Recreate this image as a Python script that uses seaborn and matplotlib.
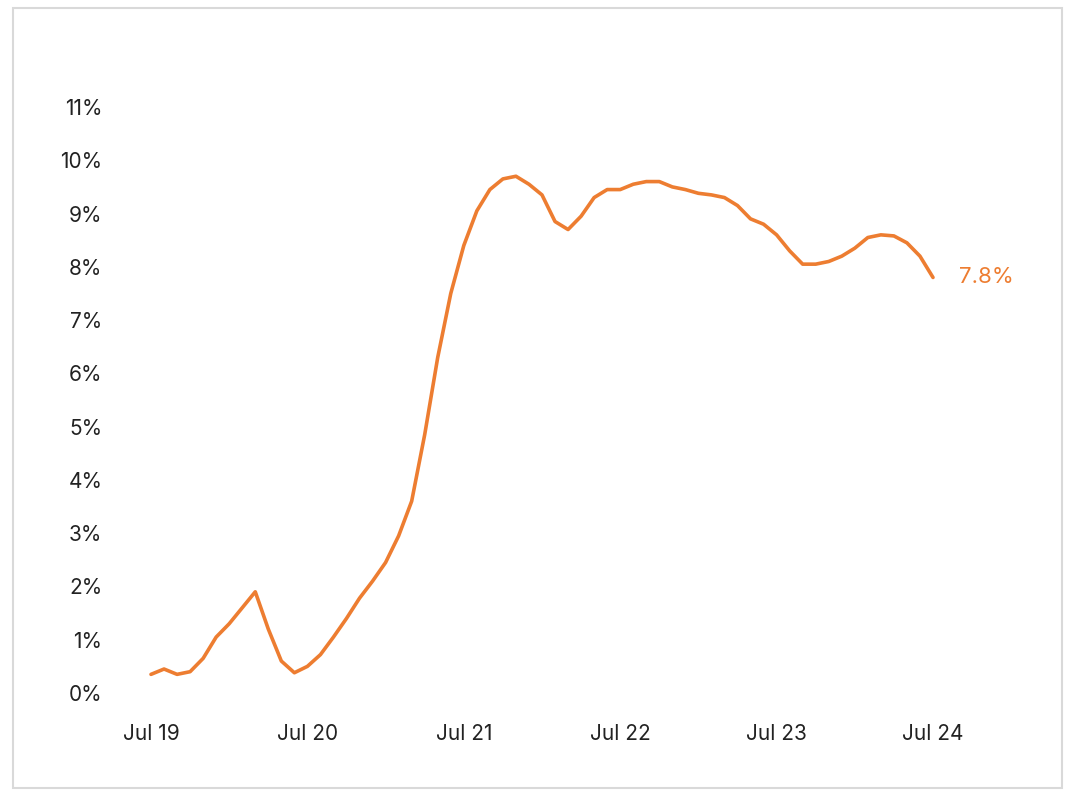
import matplotlib
matplotlib.use("Agg")
import matplotlib.pyplot as plt
import seaborn as sns
import pandas as pd
from matplotlib.patches import Rectangle

values = [0.35,0.45,0.35,0.4,0.65,1.05,1.3,1.6,1.9,1.2,0.6,0.38,
          0.5,0.72,1.05,1.4,1.78,2.1,2.45,2.95,3.6,4.85,6.3,7.5,
          8.4,9.05,9.45,9.65,9.7,9.55,9.35,8.85,8.7,8.95,9.3,9.45,
          9.45,9.55,9.6,9.6,9.5,9.45,9.38,9.35,9.3,9.15,8.9,8.8,
          8.6,8.3,8.05,8.05,8.1,8.2,8.35,8.55,8.6,8.58,8.45,8.2,7.8]
tick_pos = [0,12,24,36,48,60]
tick_labels = ["Jul 19","Jul 20","Jul 21","Jul 22","Jul 23","Jul 24"]
y_ticks = list(range(0,12))

sns.set_theme(style="white")
plt.rcParams['font.family'] = ['Inter', 'DejaVu Sans']
color = "#ED7D31"
df = pd.DataFrame({"m": range(len(values)), "v": values})

fig = plt.figure(figsize=(10.76, 8.01), dpi=100)
fig.patches.append(Rectangle((13/1076, 13/801), 1049/1076, 780/801, transform=fig.transFigure,
                             fill=False, edgecolor="#d9d9d9", linewidth=1.5))
ax = fig.add_axes([151/1076, 108/801, 782/1076, 586/801])
sns.lineplot(data=df, x="m", y="v", ax=ax, color=color, linewidth=2.6)
for l in ax.lines: l.set_clip_on(False)
ax.set_xlim(0, 60); ax.set_ylim(0, 11)
ax.set_xticks(tick_pos); ax.set_xticklabels(tick_labels)
ax.set_yticks(y_ticks); ax.set_yticklabels([f"{t}%" for t in y_ticks])
ax.tick_params(axis='both', colors="#222222", labelsize=15, length=0)
ax.tick_params(axis='y', pad=35)
ax.tick_params(axis='x', pad=22)
ax.set_xlabel(""); ax.set_ylabel("")
for s in ax.spines.values(): s.set_visible(False)
ax.text(62, values[-1], f"{values[-1]}%", color=color, fontsize=16, va='center', ha='left')
fig.savefig("out.png", dpi=100)
